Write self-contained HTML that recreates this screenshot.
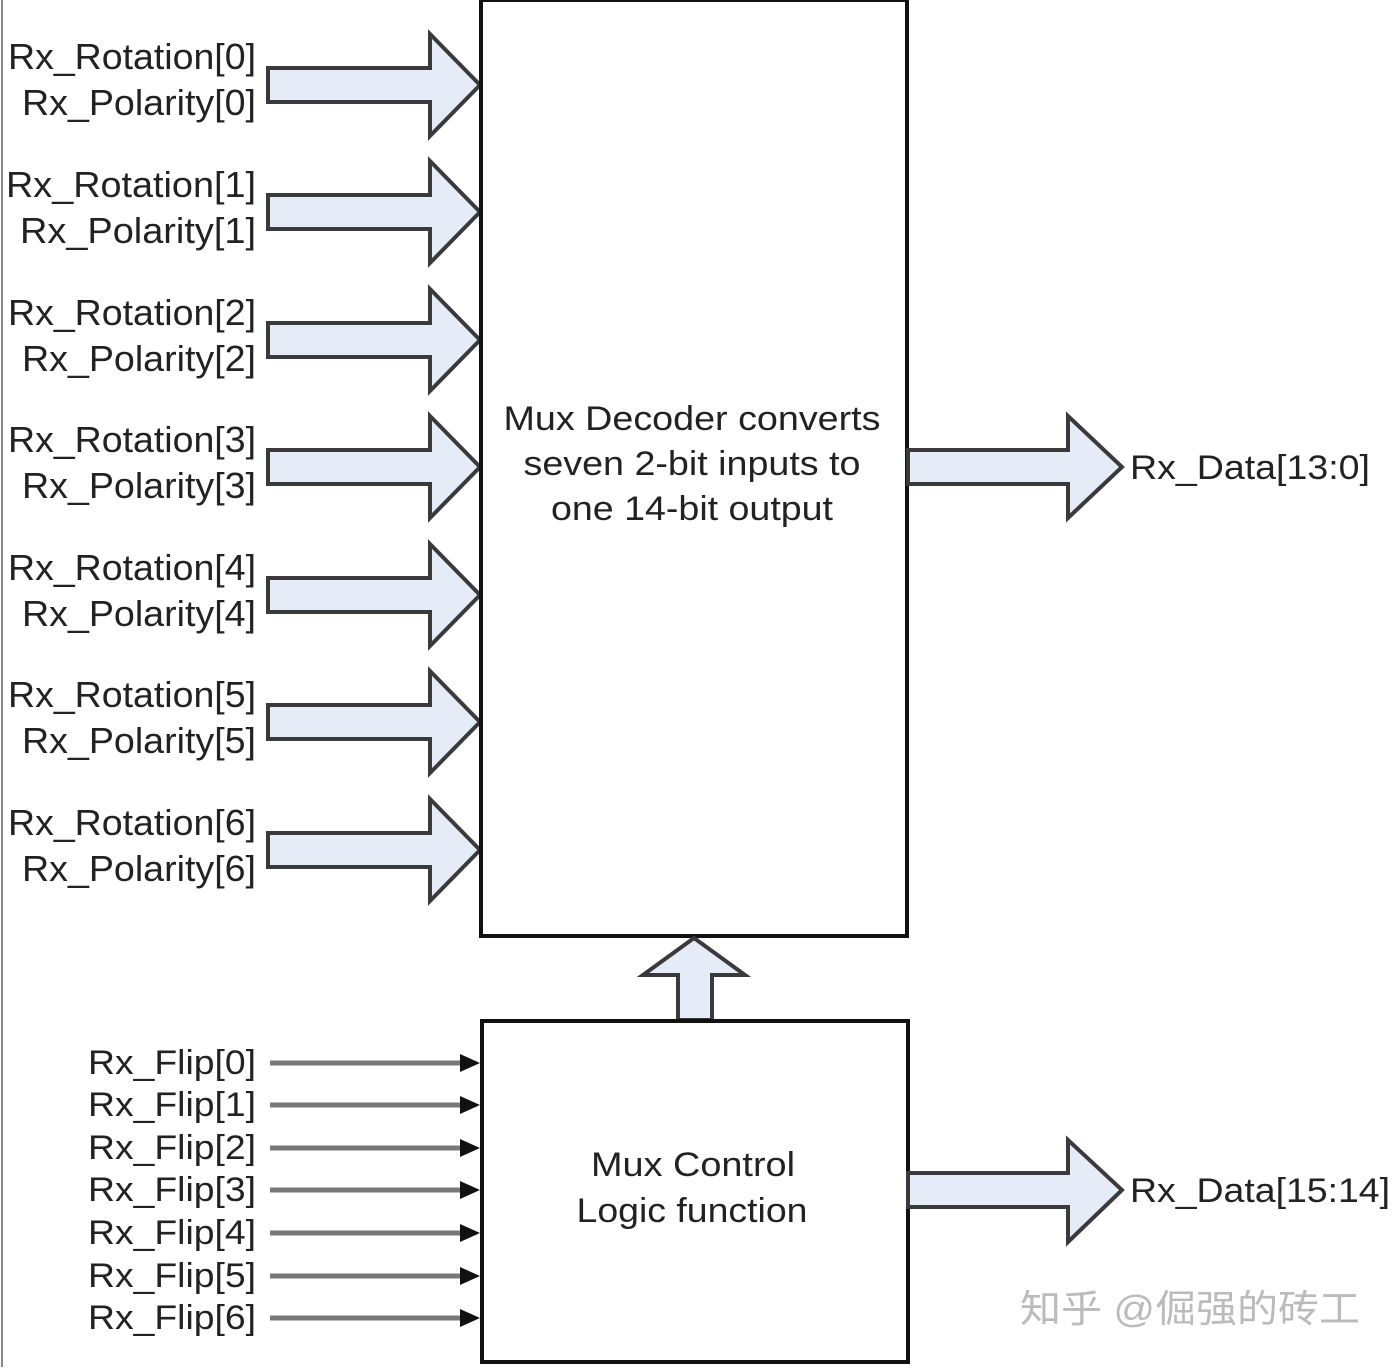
<!DOCTYPE html>
<html><head><meta charset="utf-8"><style>
body{margin:0;background:#fff}
svg text{font-family:"Liberation Sans",Arial,sans-serif;fill:#222}
</style></head><body>
<svg width="1394" height="1367" viewBox="0 0 1394 1367" xmlns="http://www.w3.org/2000/svg">
<line x1="2" y1="0" x2="2" y2="1367" stroke="#888" stroke-width="2"/>
<defs>
<g id="ain"><polygon points="268,-17 430,-17 430,-51 480,0 430,51 430,17 268,17" fill="#e6ecf7" stroke="#3a3a3a" stroke-width="4" stroke-linejoin="miter"/></g>
<g id="fl"><line x1="270" y1="0" x2="462" y2="0" stroke="#777" stroke-width="5"/><polygon points="460,-9 480,0 460,9" fill="#111"/></g>
</defs>
<g font-size="36" text-anchor="end">
<use href="#ain" y="85"/><text x="256" y="69" textLength="248" lengthAdjust="spacingAndGlyphs">Rx_Rotation[0]</text><text x="256" y="115" textLength="234" lengthAdjust="spacingAndGlyphs">Rx_Polarity[0]</text>
<use href="#ain" y="212"/><text x="256" y="197" textLength="250" lengthAdjust="spacingAndGlyphs">Rx_Rotation[1]</text><text x="256" y="243" textLength="236" lengthAdjust="spacingAndGlyphs">Rx_Polarity[1]</text>
<use href="#ain" y="340"/><text x="256" y="325" textLength="248" lengthAdjust="spacingAndGlyphs">Rx_Rotation[2]</text><text x="256" y="371" textLength="234" lengthAdjust="spacingAndGlyphs">Rx_Polarity[2]</text>
<use href="#ain" y="467"/><text x="256" y="452" textLength="248" lengthAdjust="spacingAndGlyphs">Rx_Rotation[3]</text><text x="256" y="498" textLength="234" lengthAdjust="spacingAndGlyphs">Rx_Polarity[3]</text>
<use href="#ain" y="595"/><text x="256" y="580" textLength="248" lengthAdjust="spacingAndGlyphs">Rx_Rotation[4]</text><text x="256" y="626" textLength="234" lengthAdjust="spacingAndGlyphs">Rx_Polarity[4]</text>
<use href="#ain" y="722"/><text x="256" y="707" textLength="248" lengthAdjust="spacingAndGlyphs">Rx_Rotation[5]</text><text x="256" y="753" textLength="234" lengthAdjust="spacingAndGlyphs">Rx_Polarity[5]</text>
<use href="#ain" y="850"/><text x="256" y="835" textLength="248" lengthAdjust="spacingAndGlyphs">Rx_Rotation[6]</text><text x="256" y="881" textLength="234" lengthAdjust="spacingAndGlyphs">Rx_Polarity[6]</text>
</g>
<rect x="481" y="0" width="426" height="936" fill="none" stroke="#111" stroke-width="4"/>
<g font-size="34" text-anchor="middle">
<text x="692" y="430" textLength="377" lengthAdjust="spacingAndGlyphs">Mux Decoder converts</text>
<text x="692" y="475" textLength="337" lengthAdjust="spacingAndGlyphs">seven 2-bit inputs to</text>
<text x="692" y="520" textLength="282" lengthAdjust="spacingAndGlyphs">one 14-bit output</text>
</g>
<polygon points="908,450 1068,450 1068,416 1122,467 1068,518 1068,484 908,484" fill="#e6ecf7" stroke="#3a3a3a" stroke-width="4"/>
<text x="1130" y="479" font-size="34" textLength="240" lengthAdjust="spacingAndGlyphs">Rx_Data[13:0]</text>
<polygon points="678,1020 678,975 643,975 694,938 745,975 712,975 712,1020" fill="#e6ecf7" stroke="#3a3a3a" stroke-width="4"/>
<rect x="482" y="1021" width="426" height="341" fill="none" stroke="#111" stroke-width="4"/>
<g font-size="34" text-anchor="middle">
<text x="693" y="1176" textLength="204" lengthAdjust="spacingAndGlyphs">Mux Control</text>
<text x="692" y="1222" textLength="231" lengthAdjust="spacingAndGlyphs">Logic function</text>
</g>
<polygon points="908,1173 1068,1173 1068,1140 1122,1190 1068,1242 1068,1207 908,1207" fill="#e6ecf7" stroke="#3a3a3a" stroke-width="4"/>
<text x="1130" y="1202" font-size="34" textLength="260" lengthAdjust="spacingAndGlyphs">Rx_Data[15:14]</text>
<g font-size="34" text-anchor="end">
<use href="#fl" y="1063"/><text x="256" y="1074" textLength="168" lengthAdjust="spacingAndGlyphs">Rx_Flip[0]</text>
<use href="#fl" y="1105"/><text x="256" y="1116" textLength="168" lengthAdjust="spacingAndGlyphs">Rx_Flip[1]</text>
<use href="#fl" y="1148"/><text x="256" y="1159" textLength="168" lengthAdjust="spacingAndGlyphs">Rx_Flip[2]</text>
<use href="#fl" y="1190"/><text x="256" y="1201" textLength="168" lengthAdjust="spacingAndGlyphs">Rx_Flip[3]</text>
<use href="#fl" y="1233"/><text x="256" y="1244" textLength="168" lengthAdjust="spacingAndGlyphs">Rx_Flip[4]</text>
<use href="#fl" y="1276"/><text x="256" y="1287" textLength="168" lengthAdjust="spacingAndGlyphs">Rx_Flip[5]</text>
<use href="#fl" y="1318"/><text x="256" y="1329" textLength="168" lengthAdjust="spacingAndGlyphs">Rx_Flip[6]</text>
</g>
<text x="1020" y="1322" font-size="38" textLength="340" lengthAdjust="spacingAndGlyphs" style="font-family:'Liberation Sans','Noto Sans CJK SC',sans-serif;fill:#bbb">知乎 @倔强的砖工</text>
</svg>
</body></html>
